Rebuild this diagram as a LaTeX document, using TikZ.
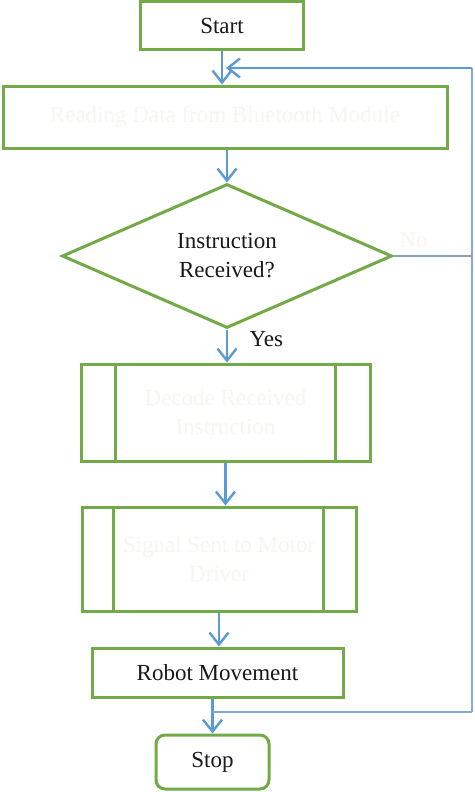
\documentclass[tikz,border=0pt]{standalone}
\usepackage{fontspec}
\setmainfont{Liberation Serif}
\usetikzlibrary{arrows.meta,shapes.geometric}
\definecolor{boxgreen}{HTML}{72AA48}
\definecolor{arrblue}{HTML}{5B9BD5}
\definecolor{loopblue}{HTML}{84AAD2}
\definecolor{fainttxt}{HTML}{F6F6F3}
\tikzset{
  vtip/.tip={Straight Barb[length=12pt,width=19pt,line width=2.4pt]},
}
\begin{document}
\begin{tikzpicture}[x=1pt,y=-1pt,
  every node/.style={font=\fontsize{23}{29}\selectfont, text=black!90},
  gbox/.style={draw=boxgreen, line width=3pt, fill=white, inner sep=0pt, align=center},
  arr/.style={draw=arrblue, line width=2.4pt, arrows={-vtip}},
  loopline/.style={draw=loopblue, line width=2pt},
  faint/.style={text=fainttxt}
]
\useasboundingbox (0,0) rectangle (474,792);
\fill[white] (0,0) rectangle (474,792);

\node[gbox, minimum width=163pt, minimum height=48pt] (start) at (222,26) {Start};
\node[gbox, minimum width=444pt, minimum height=62pt, faint] (b2) at (225,117) {Reading Data from Bluetooth Module};
\node[gbox, shape=diamond, aspect=2.29, minimum width=330pt, minimum height=144pt] (dia) at (227,256) {Instruction\\Received?};
\node[gbox, minimum width=289pt, minimum height=97pt, faint] (b3) at (225.5,412.5) {Decode Received\\Instruction};
\node[gbox, minimum width=274pt, minimum height=104pt, faint] (b4) at (219,559) {Signal Sent to Motor\\Driver};
\node[gbox, minimum width=251pt, minimum height=49pt] (rob) at (217.5,672.5) {Robot Movement};
\node[gbox, rounded corners=9pt, minimum width=113pt, minimum height=54pt] (stop) at (212.5,762) {Stop};

% predefined-process side bars
\draw[boxgreen, line width=3pt] ([xshift=36pt]b3.north west) -- ([xshift=36pt]b3.south west);
\draw[boxgreen, line width=3pt] ([xshift=-36pt]b3.north east) -- ([xshift=-36pt]b3.south east);
\draw[boxgreen, line width=3pt] ([xshift=33pt]b4.north west) -- ([xshift=33pt]b4.south west);
\draw[boxgreen, line width=3pt] ([xshift=-34pt]b4.north east) -- ([xshift=-34pt]b4.south east);

% labels
\node[faint, anchor=west] (no) at (396,240) {No};
\node[anchor=west] (yes) at (246,339) {Yes};

% loop coordinates
\coordinate (lj) at (212.5,712);
\coordinate (la) at (472,712);
\coordinate (lb) at (472,68);
\coordinate (le) at (226,68);

% connectors
\draw[arr] (start.south) -- (start.south |- b2.north);
\draw[arr] (dia.north |- b2.south) -- (dia.north);
\draw[arr] (dia.south) -- (dia.south |- b3.north);
\draw[arr] (b3.south) -- (b3.south |- b4.north);
\draw[arr] (b4.south) -- (b4.south |- rob.north);
\draw[arr] (stop.north |- rob.south) -- (stop.north);
\draw[loopline, line width=1.6pt] (lj) -- (la);
\draw[loopline] (la) -- (lb);
\draw[arr] (lb) -- (le);
\draw[draw=loopblue!80!gray, line width=1.2pt] (dia.east) -- (dia.east -| lb);
\end{tikzpicture}
\end{document}
